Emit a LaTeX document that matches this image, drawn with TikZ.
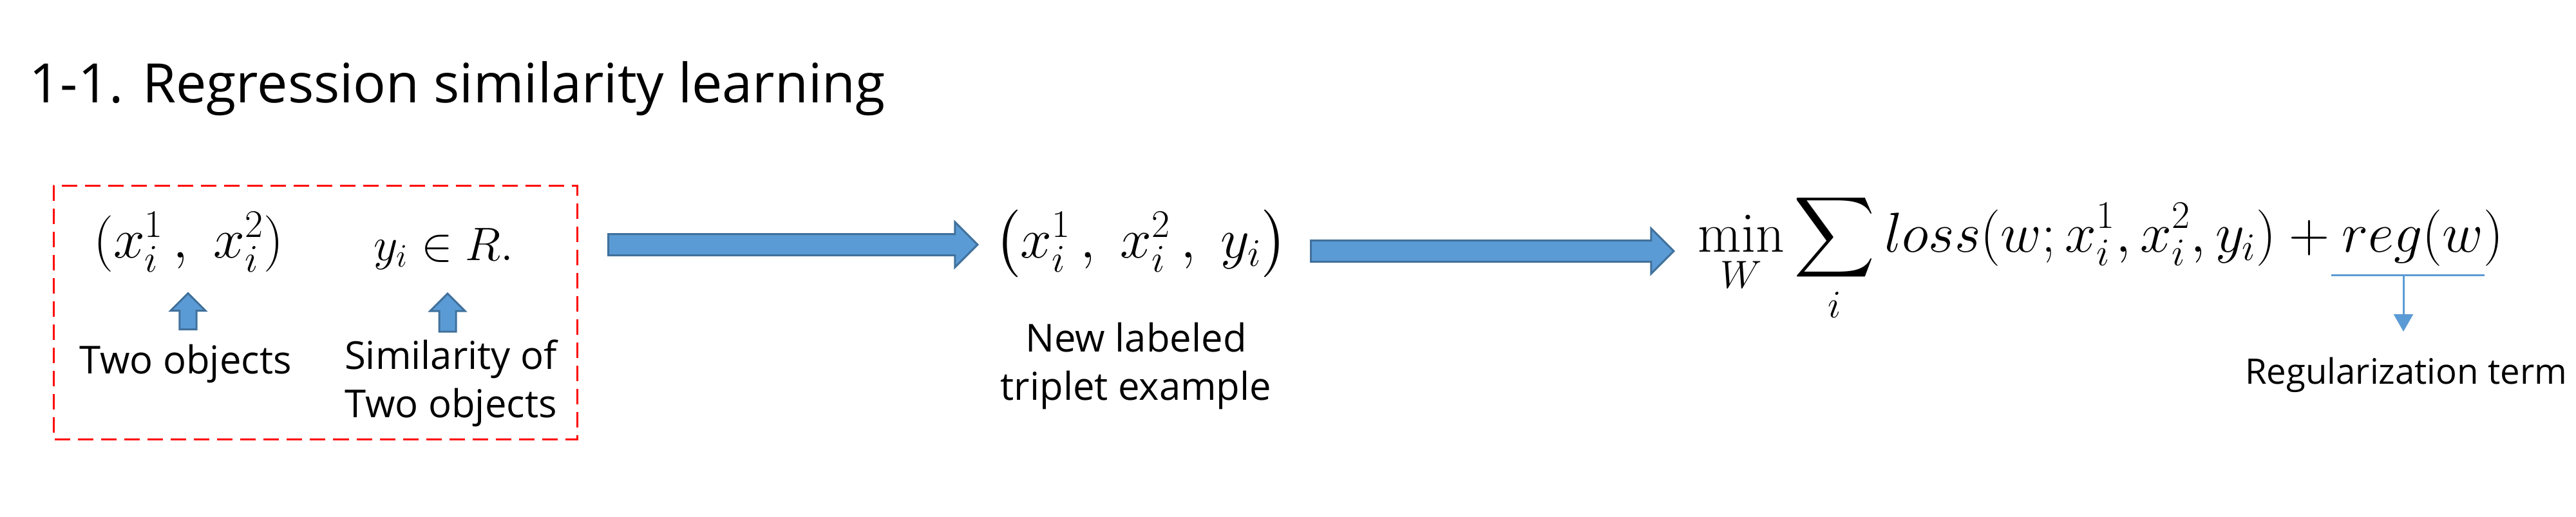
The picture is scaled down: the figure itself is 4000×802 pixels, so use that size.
\documentclass[tikz,border=0pt]{standalone}
\usepackage[no-math]{fontspec}
\setmainfont{Open Sans}
\usepackage{amsmath}
\usetikzlibrary{shapes.arrows,arrows.meta}
\definecolor{arrowblue}{HTML}{5B9BD5}
\definecolor{arrowedge}{HTML}{41719C}
\definecolor{linkblue}{HTML}{5B9BD5}

\begin{document}
\begin{tikzpicture}[x=0.01cm,y=-0.01cm,
  bigarrow/.style={single arrow, draw=arrowedge, fill=arrowblue, line width=0.03cm,
    inner xsep=0pt, inner ysep=0pt, text height=0.30cm, text depth=0pt,
    single arrow head extend=0.185cm, single arrow tip angle=90},
  uparrow/.style={bigarrow, rotate=90, text height=0.23cm, single arrow head extend=0.14cm},
  desc/.style={font=\fontsize{17}{21.3}\selectfont, align=center, anchor=base, inner sep=0pt},
  mathtxt/.style={font=\fontsize{24.4}{29}\selectfont, anchor=base, inner sep=0pt}]

% Fix the canvas
\useasboundingbox (0,0) rectangle (4000,802);

% Title
\node[anchor=base west, inner sep=0pt, font=\fontsize{24}{29}\selectfont] (title) at (45,159)
  {1-1. Regression similarity learning};

% Input box: pair of objects and their similarity
\draw[red, line width=0.03cm, dash pattern=on 0.24cm off 0.12cm] (83,288) rectangle (896,682);
\node[mathtxt] (pair) at (293,400) {$(x_i^1\,,\; x_i^2)$};
\node[mathtxt, font=\fontsize{19.6}{24}\selectfont] (sim) at (689,404) {$y_i \in R.$};
\node[uparrow, minimum height=0.56cm] (up1) at (292,490) {};
\node[uparrow, minimum height=0.59cm] (up2) at (695,492) {};
\node[desc] (objs) at (288,580) {Two objects};
\node[desc] (simtxt) at (700,648) {Similarity of\\Two objects};

% Triplet
\node[bigarrow, minimum height=5.73cm] (arrA) at (1223,380) {};
\node[mathtxt] (trip) at (1772,400) {$\bigl(x_i^1\,,\; x_i^2\,,\; y_i\bigr)$};
\node[desc] (triptxt) at (1764,621) {New labeled\\triplet example};

% Objective
\node[bigarrow, minimum height=5.63cm] (arrB) at (2309,390) {};
\node[mathtxt] (loss) at (3262,391)
  {$\displaystyle\min_{W}\sum_{i} loss(w;x_i^1,x_i^2,y_i)+reg(w)$};

% Regularization bracket
\coordinate (regL) at (3620,427);
\coordinate (regR) at (3858,427);
\coordinate (regM) at (3732,427);
\coordinate (regT) at (3732,515);
\node[desc, font=\fontsize{15.5}{19}\selectfont] (regtxt) at (3736,596) {Regularization term};
\draw[linkblue, line width=0.03cm] (regL) -- (regR);
\draw[linkblue, line width=0.03cm, -{Triangle[length=0.27cm, width=0.30cm]}] (regM) -- (regT);
\end{tikzpicture}
\end{document}
